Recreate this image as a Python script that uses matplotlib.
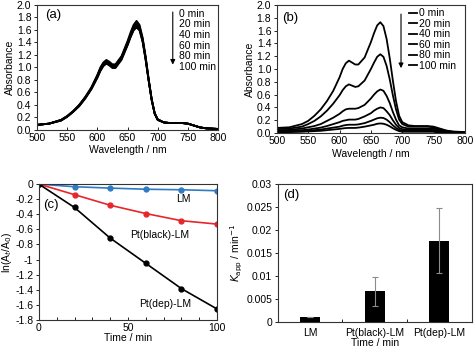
import matplotlib.pyplot as plt
from matplotlib.ticker import MultipleLocator, FuncFormatter

plt.rcParams['font.family'] = ['Liberation Sans', 'DejaVu Sans']
plt.rcParams['font.size'] = 7.5
plt.rcParams['axes.unicode_minus'] = False

# wavelength grid (nm)
wl = [500, 520, 540, 550, 560, 570, 580, 590, 600, 605, 610, 615, 620, 625, 630,
      640, 650, 655, 660, 665, 670, 675, 680, 685, 690, 695, 700, 710, 720, 740,
      750, 760, 770, 780, 800]

# (a) spectra, LM
a_0 = [0.08, 0.10, 0.16, 0.22, 0.30, 0.40, 0.53, 0.68, 0.88, 1.00, 1.08, 1.12, 1.09, 1.05, 1.05,
       1.18, 1.42, 1.56, 1.68, 1.745, 1.68, 1.48, 1.18, 0.82, 0.50, 0.27, 0.17, 0.12, 0.11, 0.11,
       0.10, 0.07, 0.04, 0.025, 0.015]
a_20 = [0.08, 0.10, 0.16, 0.22, 0.30, 0.40, 0.52, 0.67, 0.87, 0.98, 1.06, 1.10, 1.07, 1.03, 1.03,
        1.16, 1.40, 1.53, 1.65, 1.71, 1.65, 1.46, 1.16, 0.81, 0.49, 0.27, 0.17, 0.12, 0.11, 0.11,
        0.10, 0.07, 0.04, 0.025, 0.015]
a_40 = [0.08, 0.10, 0.16, 0.22, 0.30, 0.39, 0.52, 0.66, 0.86, 0.97, 1.05, 1.09, 1.06, 1.02, 1.02,
        1.15, 1.38, 1.51, 1.63, 1.69, 1.63, 1.45, 1.15, 0.80, 0.49, 0.26, 0.17, 0.12, 0.11, 0.11,
        0.10, 0.07, 0.04, 0.025, 0.015]
a_60 = [0.08, 0.10, 0.15, 0.21, 0.29, 0.39, 0.51, 0.66, 0.85, 0.96, 1.04, 1.08, 1.05, 1.01, 1.01,
        1.14, 1.37, 1.50, 1.61, 1.67, 1.61, 1.43, 1.14, 0.80, 0.48, 0.26, 0.16, 0.12, 0.11, 0.11,
        0.10, 0.07, 0.04, 0.025, 0.015]
a_80 = [0.08, 0.10, 0.15, 0.21, 0.29, 0.38, 0.51, 0.65, 0.84, 0.95, 1.03, 1.07, 1.04, 1.00, 1.00,
        1.13, 1.36, 1.49, 1.60, 1.655, 1.60, 1.42, 1.13, 0.79, 0.48, 0.26, 0.16, 0.12, 0.11, 0.11,
        0.10, 0.07, 0.04, 0.025, 0.015]
a_100 = [0.08, 0.10, 0.15, 0.21, 0.29, 0.38, 0.50, 0.65, 0.83, 0.94, 1.02, 1.06, 1.03, 0.99, 0.99,
         1.12, 1.35, 1.48, 1.59, 1.64, 1.59, 1.41, 1.12, 0.79, 0.48, 0.26, 0.16, 0.12, 0.11, 0.11,
         0.10, 0.07, 0.04, 0.025, 0.015]

# (b) spectra, Pt(dep)-LM
b_0 = [0.08, 0.09, 0.14, 0.19, 0.27, 0.37, 0.50, 0.66, 0.87, 1.00, 1.09, 1.13, 1.10, 1.07, 1.07,
       1.18, 1.42, 1.56, 1.68, 1.73, 1.67, 1.47, 1.17, 0.82, 0.50, 0.27, 0.17, 0.12, 0.11, 0.11,
       0.10, 0.07, 0.04, 0.025, 0.015]
b_20 = [0.06, 0.07, 0.10, 0.14, 0.19, 0.26, 0.35, 0.46, 0.59, 0.67, 0.73, 0.76, 0.74, 0.72, 0.73,
        0.82, 1.00, 1.10, 1.19, 1.23, 1.19, 1.05, 0.84, 0.59, 0.37, 0.21, 0.14, 0.10, 0.10, 0.10,
        0.09, 0.06, 0.035, 0.02, 0.01]
b_40 = [0.04, 0.05, 0.07, 0.09, 0.11, 0.14, 0.19, 0.24, 0.30, 0.34, 0.37, 0.38, 0.38, 0.38, 0.39,
        0.44, 0.54, 0.60, 0.65, 0.68, 0.66, 0.58, 0.47, 0.33, 0.21, 0.12, 0.09, 0.07, 0.07, 0.07,
        0.07, 0.05, 0.03, 0.015, 0.01]
b_60 = [0.03, 0.035, 0.045, 0.055, 0.07, 0.085, 0.11, 0.14, 0.17, 0.19, 0.20, 0.21, 0.21, 0.21, 0.22,
        0.26, 0.31, 0.35, 0.38, 0.40, 0.39, 0.34, 0.28, 0.20, 0.13, 0.08, 0.06, 0.05, 0.05, 0.05,
        0.05, 0.035, 0.02, 0.01, 0.005]
b_80 = [0.02, 0.025, 0.03, 0.035, 0.045, 0.055, 0.07, 0.085, 0.10, 0.115, 0.125, 0.13, 0.13, 0.13, 0.135,
        0.155, 0.19, 0.21, 0.23, 0.24, 0.235, 0.21, 0.17, 0.12, 0.08, 0.05, 0.04, 0.035, 0.035, 0.035,
        0.03, 0.02, 0.01, 0.005, 0.0]
b_100 = [0.01, 0.015, 0.02, 0.025, 0.03, 0.035, 0.045, 0.055, 0.065, 0.072, 0.078, 0.08, 0.08, 0.08, 0.085,
         0.10, 0.12, 0.13, 0.145, 0.15, 0.145, 0.13, 0.105, 0.075, 0.05, 0.03, 0.02, 0.02, 0.02, 0.02,
         0.02, 0.01, 0.005, 0.0, 0.0]

time_labels = ['0 min', '20 min', '40 min', '60 min', '80 min', '100 min']

# (c) kinetics
t = [0, 20, 40, 60, 80, 100]
ln_lm = [0, -0.035, -0.053, -0.068, -0.075, -0.088]
ln_black = [0, -0.14, -0.28, -0.39, -0.485, -0.53]
ln_dep = [0, -0.31, -0.715, -1.05, -1.385, -1.655]

# (d) rate constants
samples = ['LM', 'Pt(black)-LM', 'Pt(dep)-LM']
k_app = [0.001, 0.0067, 0.0177]
k_err = [0.0, 0.0031, 0.007]

fig = plt.figure(figsize=(4.74, 3.52), dpi=100)
ax_a = fig.add_axes([0.078, 0.631, 0.382, 0.355])
ax_b = fig.add_axes([0.584, 0.622, 0.397, 0.364])
ax_c = fig.add_axes([0.082, 0.091, 0.376, 0.386])
ax_d = fig.add_axes([0.586, 0.085, 0.409, 0.392])

fmt = FuncFormatter(lambda v, p: f'{v:g}')


def style(ax):
    for s in ax.spines.values():
        s.set_linewidth(0.8)
        s.set_color('#333333')
    ax.tick_params(axis='y', direction='out', length=2.5, width=0.6, pad=1.5)
    ax.tick_params(axis='x', direction='in', length=2.5, width=0.6, pad=2)


# (a)
for y in [a_0, a_20, a_40, a_60, a_80, a_100]:
    ax_a.plot(wl, y, color='black', lw=1.3)
ax_a.set_xlim(500, 800)
ax_a.set_ylim(0, 2.0)
ax_a.set_yticks([i * 0.2 for i in range(11)])
ax_a.yaxis.set_major_formatter(FuncFormatter(lambda v, p: f'{v:.1f}'))
ax_a.set_xticks(range(500, 801, 50))
ax_a.set_xlabel('Wavelength / nm', labelpad=2)
ax_a.set_ylabel('Absorbance', labelpad=1)
ax_a.text(513, 1.84, '(a)', fontsize=9.5, va='center')
ax_a.annotate('', xy=(725, 1.0), xytext=(725, 1.93),
              arrowprops=dict(arrowstyle='-|>', color='black', lw=0.8, mutation_scale=7))
ax_a.text(736, 1.94, '\n'.join(time_labels), va='top', ha='left', linespacing=1.08)
style(ax_a)

# (b)
for y, lab in zip([b_0, b_20, b_40, b_60, b_80, b_100], time_labels):
    ax_b.plot(wl, y, color='black', lw=1.3, label=lab)
ax_b.set_xlim(500, 800)
ax_b.set_ylim(0, 2.0)
ax_b.set_yticks([i * 0.2 for i in range(11)])
ax_b.yaxis.set_major_formatter(FuncFormatter(lambda v, p: f'{v:.1f}'))
ax_b.set_xticks(range(500, 801, 50))
ax_b.set_xlabel('Wavelength / nm', labelpad=2)
ax_b.set_ylabel('Absorbance', labelpad=1)
ax_b.text(508, 1.8, '(b)', fontsize=9.5, va='center')
ax_b.annotate('', xy=(698, 0.97), xytext=(698, 1.9),
              arrowprops=dict(arrowstyle='-|>', color='black', lw=0.8, mutation_scale=7))
ax_b.legend(loc='upper left', bbox_to_anchor=(0.69, 0.99), frameon=False, handlelength=0.8,
            handletextpad=0.2, labelspacing=0.05, borderpad=0.2, borderaxespad=0)
style(ax_b)

# (c)
ax_c.plot(t, ln_lm, color='#2E7BC4', marker='o', ms=3.5, lw=1.2)
ax_c.plot(t, ln_black, color='#E8252B', marker='o', ms=3.5, lw=1.2)
ax_c.plot(t, ln_dep, color='black', marker='o', ms=3.5, lw=1.2)
ax_c.set_xlim(0, 100)
ax_c.set_ylim(-1.8, 0)
ax_c.set_yticks([-i * 0.2 for i in range(10)])
ax_c.yaxis.set_major_formatter(fmt)
ax_c.set_xticks([0, 50, 100])
ax_c.xaxis.set_minor_locator(MultipleLocator(10))
ax_c.tick_params(axis='x', which='minor', direction='in', length=2.5, width=0.6)
ax_c.set_xlabel('Time / min', labelpad=0)
ax_c.set_ylabel('ln(A$_t$/A$_0$)', labelpad=1)
ax_c.text(81, -0.2, 'LM', ha='center', va='center')
ax_c.text(68, -0.67, 'Pt(black)-LM', ha='center', va='center')
ax_c.text(71, -1.59, 'Pt(dep)-LM', ha='center', va='center')
ax_c.text(7, -0.28, '(c)', fontsize=9.5, va='center', ha='center')
style(ax_c)

# (d)
pos = list(range(len(samples)))
ax_d.bar(pos, k_app, width=0.31, color='black', yerr=k_err, capsize=2,
         error_kw=dict(ecolor='#8c8c8c', elinewidth=0.8, capthick=0.8))
ax_d.set_xlim(-0.5, 2.5)
ax_d.set_ylim(0, 0.03)
ax_d.set_yticks([i * 0.005 for i in range(7)])
ax_d.yaxis.set_major_formatter(fmt)
ax_d.set_xticks(pos)
ax_d.set_xticklabels(samples)
ax_d.set_xticks([0.5, 1.5], minor=True)
ax_d.set_xlabel('Time / min', labelpad=0)
ax_d.set_ylabel('$K_{\\rm app}$ / min$^{-1}$', labelpad=1)
ax_d.text(-0.41, 0.0276, '(d)', fontsize=9.5, va='center')
style(ax_d)
ax_d.tick_params(axis='x', which='major', length=0, pad=4)
ax_d.tick_params(axis='x', which='minor', direction='in', length=2.5, width=0.6)

fig.savefig('out.png', dpi=100)
